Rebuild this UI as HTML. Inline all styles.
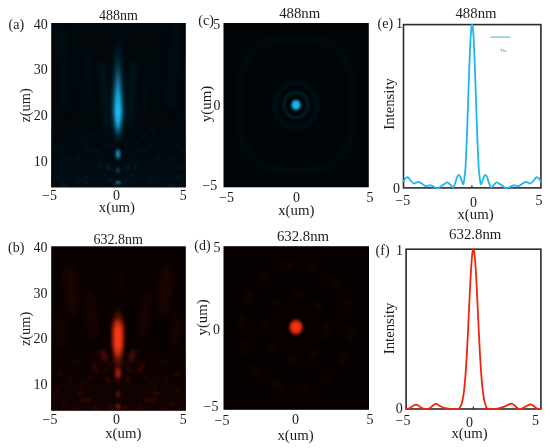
<!DOCTYPE html>
<html><head><meta charset="utf-8">
<style>
html,body{margin:0;padding:0;background:#fff;}
body{width:550px;height:448px;position:relative;overflow:hidden;}
svg{position:absolute;left:0;top:0;display:block;}
text{font-family:"Liberation Serif","Times New Roman",serif;font-size:14px;fill:#1c1c1c;}
.m{text-anchor:middle;}
.e{text-anchor:end;}
.L{font-size:14.8px;}
.Z{font-size:14.4px;}
</style></head><body>
<svg width="550" height="448" viewBox="0 0 550 448">
<defs>
<filter id="b1" x="-50%" y="-50%" width="200%" height="200%"><feGaussianBlur stdDeviation="1.2"/></filter>
<filter id="b2" x="-50%" y="-50%" width="200%" height="200%"><feGaussianBlur stdDeviation="2"/></filter>
<filter id="b3" x="-50%" y="-50%" width="200%" height="200%"><feGaussianBlur stdDeviation="3"/></filter>
<filter id="b4" x="-50%" y="-50%" width="200%" height="200%"><feGaussianBlur stdDeviation="4.5"/></filter>
<clipPath id="ca"><rect x="51.2" y="23" width="134.6" height="164.3"/></clipPath>
<clipPath id="cb"><rect x="51.2" y="246.3" width="134.6" height="164.3"/></clipPath>
<clipPath id="cc"><rect x="223.5" y="23" width="145.3" height="164.3"/></clipPath>
<clipPath id="cd"><rect x="223.5" y="246.2" width="145.5" height="163.6"/></clipPath>
<filter id="b1x" x="-50%" y="-50%" width="200%" height="200%"><feGaussianBlur stdDeviation="1.6"/></filter>
<filter id="ba" x="-300%" y="-20%" width="700%" height="140%"><feGaussianBlur stdDeviation="2.6 3"/></filter>
<linearGradient id="ga0" x1="0" y1="0" x2="0" y2="1"><stop offset="0" stop-color="#020c12" stop-opacity="0"/><stop offset="1" stop-color="#020c12" stop-opacity="1"/></linearGradient>
<linearGradient id="gb0" x1="0" y1="0" x2="0" y2="1"><stop offset="0" stop-color="#120301" stop-opacity="0"/><stop offset="1" stop-color="#120301" stop-opacity="1"/></linearGradient>
<linearGradient id="ga1" x1="0" y1="30" x2="0" y2="140" gradientUnits="userSpaceOnUse">
<stop offset="0" stop-color="#14a5d6" stop-opacity="0"/><stop offset="0.14" stop-color="#14a5d6" stop-opacity="0.14"/><stop offset="0.40" stop-color="#14a5d6" stop-opacity="0.45"/><stop offset="0.62" stop-color="#14a5d6" stop-opacity="0.85"/><stop offset="0.76" stop-color="#14a5d6" stop-opacity="1"/><stop offset="0.9" stop-color="#14a5d6" stop-opacity="0.8"/><stop offset="1" stop-color="#14a5d6" stop-opacity="0.3"/></linearGradient>
<linearGradient id="ga2" x1="0" y1="60" x2="0" y2="132" gradientUnits="userSpaceOnUse">
<stop offset="0" stop-color="#1cbdf2" stop-opacity="0"/><stop offset="0.45" stop-color="#1cbdf2" stop-opacity="0.55"/><stop offset="0.72" stop-color="#1cbdf2" stop-opacity="1"/><stop offset="0.86" stop-color="#1cbdf2" stop-opacity="0.8"/><stop offset="1" stop-color="#1cbdf2" stop-opacity="0.2"/></linearGradient>
<linearGradient id="gb1" x1="0" y1="304" x2="0" y2="382" gradientUnits="userSpaceOnUse">
<stop offset="0" stop-color="#e02c0e" stop-opacity="0"/><stop offset="0.15" stop-color="#e02c0e" stop-opacity="0.3"/><stop offset="0.3" stop-color="#e02c0e" stop-opacity="0.9"/><stop offset="0.42" stop-color="#e02c0e" stop-opacity="1"/><stop offset="0.58" stop-color="#e02c0e" stop-opacity="0.95"/><stop offset="0.75" stop-color="#e02c0e" stop-opacity="0.55"/><stop offset="1" stop-color="#e02c0e" stop-opacity="0.25"/></linearGradient>
<linearGradient id="gb2" x1="0" y1="320" x2="0" y2="356" gradientUnits="userSpaceOnUse">
<stop offset="0" stop-color="#ff3a14" stop-opacity="0.3"/><stop offset="0.3" stop-color="#ff3a14" stop-opacity="1"/><stop offset="0.7" stop-color="#ff3a14" stop-opacity="1"/><stop offset="1" stop-color="#ff3a14" stop-opacity="0.2"/></linearGradient>
<radialGradient id="gc"><stop offset="0" stop-color="#14bdf5"/><stop offset="0.34" stop-color="#13b4ea"/><stop offset="0.55" stop-color="#0f8ab5" stop-opacity="0.9"/><stop offset="0.78" stop-color="#084660" stop-opacity="0.6"/><stop offset="1" stop-color="#010507" stop-opacity="0"/></radialGradient>
<radialGradient id="gd"><stop offset="0" stop-color="#ff3a14"/><stop offset="0.3" stop-color="#f8320f"/><stop offset="0.5" stop-color="#d4280c" stop-opacity="0.96"/><stop offset="0.68" stop-color="#8e1b08" stop-opacity="0.85"/><stop offset="0.85" stop-color="#3d0b03" stop-opacity="0.55"/><stop offset="1" stop-color="#060100" stop-opacity="0"/></radialGradient>
</defs>

<rect x="51.2" y="23" width="134.6" height="164.3" fill="#01070b"/>
<g clip-path="url(#ca)">
<rect x="51" y="120" width="135" height="70" fill="url(#ga0)"/>
<path d="M102,62 L107,128 M134,62 L129,128" stroke="#0a5573" stroke-width="4" opacity="0.3" fill="none" filter="url(#b3)"/>
<path d="M86,50 L93,118 M150,50 L143,118" stroke="#0a5573" stroke-width="4" opacity="0.1" fill="none" filter="url(#b3)"/>
<path d="M60,24 L66,110 M176,24 L170,110" stroke="#0a5573" stroke-width="6" opacity="0.13" fill="none" filter="url(#b4)"/>
<path d="M118,28 C116.4,50 113.6,85 113.6,108 C113.6,122 116.6,134 118,143 C119.4,134 122.4,122 122.4,108 C122.4,85 119.6,50 118,28 Z" fill="url(#ga1)" filter="url(#ba)"/>
<path d="M118,60 C116.8,80 115.4,100 115.4,110 C115.4,120 117.2,128 118,135 C118.8,128 120.6,120 120.6,110 C120.6,100 119.2,80 118,60Z" fill="url(#ga2)" filter="url(#b1x)"/>
<ellipse cx="118" cy="154" rx="2.2" ry="4.6" fill="#1394c0" opacity="1" filter="url(#b1x)"/>
<ellipse cx="118" cy="170" rx="2" ry="2.5" fill="#0b5a78" opacity="0.8" filter="url(#b1x)"/>
<ellipse cx="118" cy="182.5" rx="3" ry="1.6" fill="#0f7ea5" opacity="0.9" filter="url(#b1)"/>
<ellipse cx="93.2462013451771" cy="136.7492520876211" rx="1.6448725733350855" ry="1.643058405168027" fill="#0b5673" opacity="0.11" filter="url(#b1x)"/>
<ellipse cx="142.7537986548229" cy="136.7492520876211" rx="1.6448725733350855" ry="1.643058405168027" fill="#0b5673" opacity="0.11" filter="url(#b1x)"/>
<ellipse cx="90.69297606833229" cy="131.363937636933" rx="1.5749913168839698" ry="1.520374820394863" fill="#0b5673" opacity="0.09" filter="url(#b1x)"/>
<ellipse cx="145.30702393166771" cy="131.363937636933" rx="1.5749913168839698" ry="1.520374820394863" fill="#0b5673" opacity="0.09" filter="url(#b1x)"/>
<ellipse cx="108.73881916194824" cy="133.26135477394416" rx="3.1537042493440763" ry="1.1485623533795748" fill="#0b5673" opacity="0.09" filter="url(#b1x)"/>
<ellipse cx="127.26118083805176" cy="133.26135477394416" rx="3.1537042493440763" ry="1.1485623533795748" fill="#0b5673" opacity="0.09" filter="url(#b1x)"/>
<ellipse cx="99.38242315897212" cy="164.39112689952418" rx="2.6542058972349976" ry="1.4760165695809362" fill="#0b5673" opacity="0.19" filter="url(#b1x)"/>
<ellipse cx="136.6175768410279" cy="164.39112689952418" rx="2.6542058972349976" ry="1.4760165695809362" fill="#0b5673" opacity="0.19" filter="url(#b1x)"/>
<ellipse cx="53.44843855883187" cy="130.70179547582987" rx="2.0792185726633523" ry="1.1731061000289251" fill="#0b5673" opacity="0.12" filter="url(#b1x)"/>
<ellipse cx="182.55156144116813" cy="130.70179547582987" rx="2.0792185726633523" ry="1.1731061000289251" fill="#0b5673" opacity="0.12" filter="url(#b1x)"/>
<ellipse cx="105.81467347721953" cy="145.8919457979122" rx="1.861452759847875" ry="1.6979201963949597" fill="#0b5673" opacity="0.14" filter="url(#b1x)"/>
<ellipse cx="130.18532652278049" cy="145.8919457979122" rx="1.861452759847875" ry="1.6979201963949597" fill="#0b5673" opacity="0.14" filter="url(#b1x)"/>
<ellipse cx="74.02627839550277" cy="149.59905747809242" rx="1.6255779499466463" ry="1.0715214039594791" fill="#0b5673" opacity="0.12" filter="url(#b1x)"/>
<ellipse cx="161.97372160449723" cy="149.59905747809242" rx="1.6255779499466463" ry="1.0715214039594791" fill="#0b5673" opacity="0.12" filter="url(#b1x)"/>
<ellipse cx="100.43651851802107" cy="167.4631984445436" rx="2.128294340753583" ry="1.7026742362091665" fill="#0b5673" opacity="0.13" filter="url(#b1x)"/>
<ellipse cx="135.56348148197893" cy="167.4631984445436" rx="2.128294340753583" ry="1.7026742362091665" fill="#0b5673" opacity="0.13" filter="url(#b1x)"/>
<ellipse cx="85.3557530413827" cy="145.38648581809358" rx="2.8979888674591425" ry="1.2929158128665836" fill="#0b5673" opacity="0.14" filter="url(#b1x)"/>
<ellipse cx="150.64424695861732" cy="145.38648581809358" rx="2.8979888674591425" ry="1.2929158128665836" fill="#0b5673" opacity="0.14" filter="url(#b1x)"/>
<ellipse cx="77.96015367422106" cy="158.46139722106417" rx="2.958890578878435" ry="1.3455253178682238" fill="#0b5673" opacity="0.17" filter="url(#b1x)"/>
<ellipse cx="158.03984632577894" cy="158.46139722106417" rx="2.958890578878435" ry="1.3455253178682238" fill="#0b5673" opacity="0.17" filter="url(#b1x)"/>
<ellipse cx="53.2093343029525" cy="134.8478151387878" rx="3.0142818591304987" ry="1.1823814415926057" fill="#0b5673" opacity="0.09" filter="url(#b1x)"/>
<ellipse cx="182.7906656970475" cy="134.8478151387878" rx="3.0142818591304987" ry="1.1823814415926057" fill="#0b5673" opacity="0.09" filter="url(#b1x)"/>
<ellipse cx="83.17325087097586" cy="130.2740209087514" rx="3.029141732425626" ry="1.6876311283328609" fill="#0b5673" opacity="0.1" filter="url(#b1x)"/>
<ellipse cx="152.82674912902414" cy="130.2740209087514" rx="3.029141732425626" ry="1.6876311283328609" fill="#0b5673" opacity="0.1" filter="url(#b1x)"/>
<ellipse cx="59.59585347831582" cy="146.1973557451896" rx="2.6887397542100366" ry="1.6958742451389908" fill="#0b5673" opacity="0.13" filter="url(#b1x)"/>
<ellipse cx="176.4041465216842" cy="146.1973557451896" rx="2.6887397542100366" ry="1.6958742451389908" fill="#0b5673" opacity="0.13" filter="url(#b1x)"/>
<ellipse cx="85.1714747906138" cy="176.7181312697274" rx="2.4481966748392887" ry="1.7969826465696095" fill="#0b5673" opacity="0.21" filter="url(#b1x)"/>
<ellipse cx="150.8285252093862" cy="176.7181312697274" rx="2.4481966748392887" ry="1.7969826465696095" fill="#0b5673" opacity="0.21" filter="url(#b1x)"/>
<ellipse cx="109.2991649165696" cy="168.6865372356566" rx="3.486191878933268" ry="1.986309743931658" fill="#0b5673" opacity="0.16" filter="url(#b1x)"/>
<ellipse cx="126.7008350834304" cy="168.6865372356566" rx="3.486191878933268" ry="1.986309743931658" fill="#0b5673" opacity="0.16" filter="url(#b1x)"/>
<ellipse cx="95.6396725422569" cy="150.37590366190923" rx="1.5451258561111771" ry="1.554034343559719" fill="#0b5673" opacity="0.13" filter="url(#b1x)"/>
<ellipse cx="140.3603274577431" cy="150.37590366190923" rx="1.5451258561111771" ry="1.554034343559719" fill="#0b5673" opacity="0.13" filter="url(#b1x)"/>
<ellipse cx="102.74904888670078" cy="134.79155607994045" rx="3.0364659769450415" ry="1.155208266422421" fill="#0b5673" opacity="0.06" filter="url(#b1x)"/>
<ellipse cx="133.2509511132992" cy="134.79155607994045" rx="3.0364659769450415" ry="1.155208266422421" fill="#0b5673" opacity="0.06" filter="url(#b1x)"/>
<ellipse cx="97.89549514448822" cy="150.67508278172716" rx="1.6611626024002772" ry="1.539024881139197" fill="#0b5673" opacity="0.15" filter="url(#b1x)"/>
<ellipse cx="138.10450485551178" cy="150.67508278172716" rx="1.6611626024002772" ry="1.539024881139197" fill="#0b5673" opacity="0.15" filter="url(#b1x)"/>
<ellipse cx="79.48416554221372" cy="179.23626193360772" rx="3.22796893939703" ry="1.3341052774166766" fill="#0b5673" opacity="0.2" filter="url(#b1x)"/>
<ellipse cx="156.5158344577863" cy="179.23626193360772" rx="3.22796893939703" ry="1.3341052774166766" fill="#0b5673" opacity="0.2" filter="url(#b1x)"/>
<ellipse cx="87.66691245008639" cy="148.80872758923425" rx="3.4154624079279827" ry="1.1811050869493307" fill="#0b5673" opacity="0.15" filter="url(#b1x)"/>
<ellipse cx="148.3330875499136" cy="148.80872758923425" rx="3.4154624079279827" ry="1.1811050869493307" fill="#0b5673" opacity="0.15" filter="url(#b1x)"/>
<ellipse cx="102.25071856208741" cy="141.45349827553306" rx="2.4699254606827132" ry="1.706948204478707" fill="#0b5673" opacity="0.08" filter="url(#b1x)"/>
<ellipse cx="133.7492814379126" cy="141.45349827553306" rx="2.4699254606827132" ry="1.706948204478707" fill="#0b5673" opacity="0.08" filter="url(#b1x)"/>
<ellipse cx="96.97245622278919" cy="128.2374289963337" rx="2.238507145789451" ry="1.6796094684476706" fill="#0b5673" opacity="0.08" filter="url(#b1x)"/>
<ellipse cx="139.0275437772108" cy="128.2374289963337" rx="2.238507145789451" ry="1.6796094684476706" fill="#0b5673" opacity="0.08" filter="url(#b1x)"/>
<ellipse cx="54.861026542969185" cy="168.04863211388673" rx="2.7351854988182556" ry="1.8114400989394017" fill="#0b5673" opacity="0.15" filter="url(#b1x)"/>
<ellipse cx="181.13897345703083" cy="168.04863211388673" rx="2.7351854988182556" ry="1.8114400989394017" fill="#0b5673" opacity="0.15" filter="url(#b1x)"/>
<ellipse cx="109.7064335133488" cy="180.17291458336123" rx="3.249026368268953" ry="1.9574477454358794" fill="#0b5673" opacity="0.2" filter="url(#b1x)"/>
<ellipse cx="126.2935664866512" cy="180.17291458336123" rx="3.249026368268953" ry="1.9574477454358794" fill="#0b5673" opacity="0.2" filter="url(#b1x)"/>
<ellipse cx="89.06488667963262" cy="151.14077227457582" rx="2.768579131371418" ry="1.0746973859424251" fill="#0b5673" opacity="0.08" filter="url(#b1x)"/>
<ellipse cx="146.93511332036738" cy="151.14077227457582" rx="2.768579131371418" ry="1.0746973859424251" fill="#0b5673" opacity="0.08" filter="url(#b1x)"/>
<ellipse cx="108.89179543357548" cy="140.10826475587754" rx="2.180107304464687" ry="1.0630907246683203" fill="#0b5673" opacity="0.07" filter="url(#b1x)"/>
<ellipse cx="127.10820456642452" cy="140.10826475587754" rx="2.180107304464687" ry="1.0630907246683203" fill="#0b5673" opacity="0.07" filter="url(#b1x)"/>
<ellipse cx="112.98576980401725" cy="136.7733660722068" rx="2.227219844069142" ry="1.0306010639993748" fill="#0b5673" opacity="0.07" filter="url(#b1x)"/>
<ellipse cx="123.01423019598275" cy="136.7733660722068" rx="2.227219844069142" ry="1.0306010639993748" fill="#0b5673" opacity="0.07" filter="url(#b1x)"/>
<ellipse cx="59.665724980197005" cy="163.61600129173178" rx="2.0045155131141543" ry="1.416867455264442" fill="#0b5673" opacity="0.1" filter="url(#b1x)"/>
<ellipse cx="176.334275019803" cy="163.61600129173178" rx="2.0045155131141543" ry="1.416867455264442" fill="#0b5673" opacity="0.1" filter="url(#b1x)"/>
<ellipse cx="90.78603018877477" cy="135.1248493842073" rx="3.486205443409428" ry="1.5591873509919205" fill="#0b5673" opacity="0.12" filter="url(#b1x)"/>
<ellipse cx="145.21396981122524" cy="135.1248493842073" rx="3.486205443409428" ry="1.5591873509919205" fill="#0b5673" opacity="0.12" filter="url(#b1x)"/>
<ellipse cx="83.48608595860756" cy="132.9813103702576" rx="2.1852716764860034" ry="1.3177082700606162" fill="#0b5673" opacity="0.06" filter="url(#b1x)"/>
<ellipse cx="152.51391404139244" cy="132.9813103702576" rx="2.1852716764860034" ry="1.3177082700606162" fill="#0b5673" opacity="0.06" filter="url(#b1x)"/>
<ellipse cx="62.439821934584806" cy="137.36343941053303" rx="3.401971145749404" ry="1.6339088740505499" fill="#0b5673" opacity="0.06" filter="url(#b1x)"/>
<ellipse cx="173.5601780654152" cy="137.36343941053303" rx="3.401971145749404" ry="1.6339088740505499" fill="#0b5673" opacity="0.06" filter="url(#b1x)"/>
<ellipse cx="104.05724512715547" cy="159.50400070116262" rx="2.556218881876613" ry="2.1742014912627674" fill="#0b5673" opacity="0.08" filter="url(#b1x)"/>
<ellipse cx="131.94275487284455" cy="159.50400070116262" rx="2.556218881876613" ry="2.1742014912627674" fill="#0b5673" opacity="0.08" filter="url(#b1x)"/>
<ellipse cx="60.337173152330195" cy="168.37941358265252" rx="2.233399583522358" ry="1.2004504414412036" fill="#0b5673" opacity="0.12" filter="url(#b1x)"/>
<ellipse cx="175.6628268476698" cy="168.37941358265252" rx="2.233399583522358" ry="1.2004504414412036" fill="#0b5673" opacity="0.12" filter="url(#b1x)"/>
<ellipse cx="65.91178758747608" cy="158.89035905458698" rx="2.1593299900955247" ry="1.2676500077238222" fill="#0b5673" opacity="0.16" filter="url(#b1x)"/>
<ellipse cx="170.08821241252392" cy="158.89035905458698" rx="2.1593299900955247" ry="1.2676500077238222" fill="#0b5673" opacity="0.16" filter="url(#b1x)"/>
<ellipse cx="63.49781394681071" cy="185.12571093427167" rx="3.112157169571335" ry="1.981999531990448" fill="#0b5673" opacity="0.22" filter="url(#b1x)"/>
<ellipse cx="172.5021860531893" cy="185.12571093427167" rx="3.112157169571335" ry="1.981999531990448" fill="#0b5673" opacity="0.22" filter="url(#b1x)"/>
<ellipse cx="67.86774575708144" cy="141.15089042183192" rx="2.2111250867099166" ry="1.0347761808896385" fill="#0b5673" opacity="0.11" filter="url(#b1x)"/>
<ellipse cx="168.13225424291858" cy="141.15089042183192" rx="2.2111250867099166" ry="1.0347761808896385" fill="#0b5673" opacity="0.11" filter="url(#b1x)"/>
<ellipse cx="111.29583839925407" cy="144.20627526484373" rx="2.8850438834002468" ry="2.1478180916096052" fill="#0b5673" opacity="0.09" filter="url(#b1x)"/>
<ellipse cx="124.70416160074593" cy="144.20627526484373" rx="2.8850438834002468" ry="2.1478180916096052" fill="#0b5673" opacity="0.09" filter="url(#b1x)"/>
<ellipse cx="85.71911165622987" cy="182.34722967402206" rx="3.410001262642666" ry="1.4375630624342395" fill="#0b5673" opacity="0.23" filter="url(#b1x)"/>
<ellipse cx="150.28088834377013" cy="182.34722967402206" rx="3.410001262642666" ry="1.4375630624342395" fill="#0b5673" opacity="0.23" filter="url(#b1x)"/>
<ellipse cx="99.55179829722951" cy="141.1570579503822" rx="1.908746726552446" ry="1.748879676925382" fill="#0b5673" opacity="0.08" filter="url(#b1x)"/>
<ellipse cx="136.4482017027705" cy="141.1570579503822" rx="1.908746726552446" ry="1.748879676925382" fill="#0b5673" opacity="0.08" filter="url(#b1x)"/>
<ellipse cx="58.08119138906903" cy="176.7452605821988" rx="2.805956085682018" ry="1.9595724938195924" fill="#0b5673" opacity="0.15" filter="url(#b1x)"/>
<ellipse cx="177.91880861093097" cy="176.7452605821988" rx="2.805956085682018" ry="1.9595724938195924" fill="#0b5673" opacity="0.15" filter="url(#b1x)"/>
<ellipse cx="107.8285123265268" cy="166.31396771188386" rx="3.06460576819618" ry="1.90016855179655" fill="#0b5673" opacity="0.19" filter="url(#b1x)"/>
<ellipse cx="128.1714876734732" cy="166.31396771188386" rx="3.06460576819618" ry="1.90016855179655" fill="#0b5673" opacity="0.19" filter="url(#b1x)"/>
<ellipse cx="83.84000257976598" cy="138.35425966357926" rx="2.16503439972922" ry="1.9609882826760294" fill="#0b5673" opacity="0.12" filter="url(#b1x)"/>
<ellipse cx="152.15999742023402" cy="138.35425966357926" rx="2.16503439972922" ry="1.9609882826760294" fill="#0b5673" opacity="0.12" filter="url(#b1x)"/>
<ellipse cx="53.72890537208835" cy="150.958632714028" rx="3.393594012929786" ry="1.8697583987610584" fill="#0b5673" opacity="0.11" filter="url(#b1x)"/>
<ellipse cx="182.27109462791165" cy="150.958632714028" rx="3.393594012929786" ry="1.8697583987610584" fill="#0b5673" opacity="0.11" filter="url(#b1x)"/>
<ellipse cx="102.62977674171438" cy="135.36822530327612" rx="3.3097041914664787" ry="1.9678023784386354" fill="#0b5673" opacity="0.07" filter="url(#b1x)"/>
<ellipse cx="133.37022325828562" cy="135.36822530327612" rx="3.3097041914664787" ry="1.9678023784386354" fill="#0b5673" opacity="0.07" filter="url(#b1x)"/>
<ellipse cx="104.08336716662367" cy="175.93760775447245" rx="2.81453658547204" ry="1.4204890145890035" fill="#0b5673" opacity="0.22" filter="url(#b1x)"/>
<ellipse cx="131.91663283337633" cy="175.93760775447245" rx="2.81453658547204" ry="1.4204890145890035" fill="#0b5673" opacity="0.22" filter="url(#b1x)"/>
<ellipse cx="79.53173731680647" cy="135.5970634165481" rx="3.4417803544755285" ry="1.7796096036085967" fill="#0b5673" opacity="0.06" filter="url(#b1x)"/>
<ellipse cx="156.46826268319353" cy="135.5970634165481" rx="3.4417803544755285" ry="1.7796096036085967" fill="#0b5673" opacity="0.06" filter="url(#b1x)"/>
</g>
<rect x="51.2" y="246.3" width="134.6" height="164.3" fill="#080100"/>
<g clip-path="url(#cb)">
<rect x="51" y="340" width="135" height="72" fill="url(#gb0)"/>
<ellipse cx="71" cy="290" rx="5" ry="28" fill="#5a1206" opacity="0.3" filter="url(#b4)" transform="rotate(-6 71 290)"/>
<ellipse cx="165" cy="290" rx="5" ry="28" fill="#5a1206" opacity="0.3" filter="url(#b4)" transform="rotate(6 165 290)"/>
<ellipse cx="91" cy="315" rx="4" ry="26" fill="#5a1206" opacity="0.28" filter="url(#b4)" transform="rotate(-5 91 315)"/>
<ellipse cx="145" cy="315" rx="4" ry="26" fill="#5a1206" opacity="0.28" filter="url(#b4)" transform="rotate(5 145 315)"/>
<ellipse cx="60" cy="330" rx="5" ry="20" fill="#5a1206" opacity="0.2" filter="url(#b4)" transform="rotate(-8 60 330)"/>
<ellipse cx="176" cy="330" rx="5" ry="20" fill="#5a1206" opacity="0.2" filter="url(#b4)" transform="rotate(8 176 330)"/>
<ellipse cx="118" cy="283" rx="3" ry="16" fill="#5a1206" opacity="0.18" filter="url(#b4)"/>
<path d="M118,302 C115,312 113,322 113,334 C113,346 115.4,358 116.4,366 L116.6,382 L119.4,382 L119.6,366 C120.6,358 123,346 123,334 C123,322 121,312 118,302Z" fill="url(#gb1)" filter="url(#ba)"/>
<rect x="114.6" y="320" width="6.8" height="36" fill="url(#gb2)" filter="url(#b2)"/>
<ellipse cx="118" cy="373" rx="2.6" ry="5" fill="#b0230f" opacity="0.9" filter="url(#b1x)"/>
<ellipse cx="118" cy="394" rx="2.2" ry="3" fill="#6a1408" opacity="0.8" filter="url(#b1x)"/>
<ellipse cx="118" cy="406.5" rx="2.8" ry="2.2" fill="#8a1a0a" opacity="0.9" filter="url(#b1x)"/>
<ellipse cx="104" cy="356" rx="2.6" ry="7" fill="#6e1607" opacity="0.75" filter="url(#b2)" transform="rotate(-18 104 356)"/>
<ellipse cx="132" cy="356" rx="2.6" ry="7" fill="#6e1607" opacity="0.75" filter="url(#b2)" transform="rotate(18 132 356)"/>
<ellipse cx="95" cy="368" rx="2.4" ry="6" fill="#561105" opacity="0.6" filter="url(#b2)" transform="rotate(-28 95 368)"/>
<ellipse cx="141" cy="368" rx="2.4" ry="6" fill="#561105" opacity="0.6" filter="url(#b2)" transform="rotate(28 141 368)"/>
<ellipse cx="108" cy="380" rx="2" ry="4" fill="#561105" opacity="0.5" filter="url(#b1x)" transform="rotate(-20 108 380)"/>
<ellipse cx="128" cy="380" rx="2" ry="4" fill="#561105" opacity="0.5" filter="url(#b1x)" transform="rotate(20 128 380)"/>
<ellipse cx="85.40484723590106" cy="383.02657077874926" rx="2.4313001401995464" ry="1.8094095276747253" fill="#5c1206" opacity="0.3" filter="url(#b1x)"/>
<ellipse cx="150.59515276409894" cy="383.02657077874926" rx="2.4313001401995464" ry="1.8094095276747253" fill="#5c1206" opacity="0.3" filter="url(#b1x)"/>
<ellipse cx="77.16952544015629" cy="360.8949602874377" rx="2.759765440433604" ry="2.1515722470239433" fill="#5c1206" opacity="0.16" filter="url(#b1x)"/>
<ellipse cx="158.8304745598437" cy="360.8949602874377" rx="2.759765440433604" ry="2.1515722470239433" fill="#5c1206" opacity="0.16" filter="url(#b1x)"/>
<ellipse cx="107.25846917001768" cy="367.900674494847" rx="3.1192890687343553" ry="2.0321261790494867" fill="#5c1206" opacity="0.11" filter="url(#b1x)"/>
<ellipse cx="128.74153082998234" cy="367.900674494847" rx="3.1192890687343553" ry="2.0321261790494867" fill="#5c1206" opacity="0.11" filter="url(#b1x)"/>
<ellipse cx="110.44529948143939" cy="407.9494118271279" rx="2.8078450670676807" ry="1.9386752454942848" fill="#5c1206" opacity="0.39" filter="url(#b1x)"/>
<ellipse cx="125.55470051856061" cy="407.9494118271279" rx="2.8078450670676807" ry="1.9386752454942848" fill="#5c1206" opacity="0.39" filter="url(#b1x)"/>
<ellipse cx="103.39286019645009" cy="350.8850434800267" rx="1.61910221033771" ry="1.4282499153575148" fill="#5c1206" opacity="0.14" filter="url(#b1x)"/>
<ellipse cx="132.6071398035499" cy="350.8850434800267" rx="1.61910221033771" ry="1.4282499153575148" fill="#5c1206" opacity="0.14" filter="url(#b1x)"/>
<ellipse cx="98.2414761664219" cy="351.7748727642625" rx="2.3810622333133136" ry="2.2109125542222383" fill="#5c1206" opacity="0.14" filter="url(#b1x)"/>
<ellipse cx="137.7585238335781" cy="351.7748727642625" rx="2.3810622333133136" ry="2.2109125542222383" fill="#5c1206" opacity="0.14" filter="url(#b1x)"/>
<ellipse cx="81.33342899939132" cy="387.77721076723145" rx="2.8248990637807365" ry="1.7487958579194691" fill="#5c1206" opacity="0.23" filter="url(#b1x)"/>
<ellipse cx="154.66657100060868" cy="387.77721076723145" rx="2.8248990637807365" ry="1.7487958579194691" fill="#5c1206" opacity="0.23" filter="url(#b1x)"/>
<ellipse cx="96.03206312050295" cy="408.861715827322" rx="3.1804310989857236" ry="2.0493715457975394" fill="#5c1206" opacity="0.4" filter="url(#b1x)"/>
<ellipse cx="139.96793687949705" cy="408.861715827322" rx="3.1804310989857236" ry="2.0493715457975394" fill="#5c1206" opacity="0.4" filter="url(#b1x)"/>
<ellipse cx="93.76808976205146" cy="363.5502881948664" rx="1.6404469991198518" ry="2.1195454636924884" fill="#5c1206" opacity="0.14" filter="url(#b1x)"/>
<ellipse cx="142.23191023794854" cy="363.5502881948664" rx="1.6404469991198518" ry="2.1195454636924884" fill="#5c1206" opacity="0.14" filter="url(#b1x)"/>
<ellipse cx="88.57561189997205" cy="399.94843369098953" rx="3.416084766639627" ry="2.216771727963365" fill="#5c1206" opacity="0.23" filter="url(#b1x)"/>
<ellipse cx="147.42438810002795" cy="399.94843369098953" rx="3.416084766639627" ry="2.216771727963365" fill="#5c1206" opacity="0.23" filter="url(#b1x)"/>
<ellipse cx="112.96675883961021" cy="362.37332746904707" rx="2.4399745520273326" ry="2.3764307294091505" fill="#5c1206" opacity="0.23" filter="url(#b1x)"/>
<ellipse cx="123.03324116038979" cy="362.37332746904707" rx="2.4399745520273326" ry="2.3764307294091505" fill="#5c1206" opacity="0.23" filter="url(#b1x)"/>
<ellipse cx="88.75711232716385" cy="354.3092622861882" rx="3.057021717353302" ry="1.523730704220171" fill="#5c1206" opacity="0.16" filter="url(#b1x)"/>
<ellipse cx="147.24288767283616" cy="354.3092622861882" rx="3.057021717353302" ry="1.523730704220171" fill="#5c1206" opacity="0.16" filter="url(#b1x)"/>
<ellipse cx="107.68420390051762" cy="369.62255190233753" rx="3.0160810339875175" ry="1.341590015303461" fill="#5c1206" opacity="0.26" filter="url(#b1x)"/>
<ellipse cx="128.31579609948238" cy="369.62255190233753" rx="3.0160810339875175" ry="1.341590015303461" fill="#5c1206" opacity="0.26" filter="url(#b1x)"/>
<ellipse cx="97.97033511751907" cy="355.9617322284456" rx="3.094043023687948" ry="1.4132137538380394" fill="#5c1206" opacity="0.09" filter="url(#b1x)"/>
<ellipse cx="138.02966488248092" cy="355.9617322284456" rx="3.094043023687948" ry="1.4132137538380394" fill="#5c1206" opacity="0.09" filter="url(#b1x)"/>
<ellipse cx="78.88299636176592" cy="376.3980677725603" rx="2.963788431428701" ry="1.3571605004599436" fill="#5c1206" opacity="0.14" filter="url(#b1x)"/>
<ellipse cx="157.11700363823408" cy="376.3980677725603" rx="2.963788431428701" ry="1.3571605004599436" fill="#5c1206" opacity="0.14" filter="url(#b1x)"/>
<ellipse cx="73.7333774536188" cy="356.87397127074263" rx="1.9257313460181789" ry="1.523753972628718" fill="#5c1206" opacity="0.14" filter="url(#b1x)"/>
<ellipse cx="162.2666225463812" cy="356.87397127074263" rx="1.9257313460181789" ry="1.523753972628718" fill="#5c1206" opacity="0.14" filter="url(#b1x)"/>
<ellipse cx="53.773327570659816" cy="397.4012786818422" rx="3.2697302254979417" ry="1.4528522657213272" fill="#5c1206" opacity="0.2" filter="url(#b1x)"/>
<ellipse cx="182.22667242934017" cy="397.4012786818422" rx="3.2697302254979417" ry="1.4528522657213272" fill="#5c1206" opacity="0.2" filter="url(#b1x)"/>
<ellipse cx="88.94924713860469" cy="400.4082372003726" rx="1.7006655043677659" ry="2.3871620370122066" fill="#5c1206" opacity="0.29" filter="url(#b1x)"/>
<ellipse cx="147.05075286139532" cy="400.4082372003726" rx="1.7006655043677659" ry="2.3871620370122066" fill="#5c1206" opacity="0.29" filter="url(#b1x)"/>
<ellipse cx="99.99215451677112" cy="365.2383759138356" rx="2.15791085109546" ry="1.5555897151187357" fill="#5c1206" opacity="0.22" filter="url(#b1x)"/>
<ellipse cx="136.0078454832289" cy="365.2383759138356" rx="2.15791085109546" ry="1.5555897151187357" fill="#5c1206" opacity="0.22" filter="url(#b1x)"/>
<ellipse cx="108.52268824330612" cy="355.31691320475386" rx="1.9860258402751247" ry="1.9215406122983265" fill="#5c1206" opacity="0.16" filter="url(#b1x)"/>
<ellipse cx="127.47731175669388" cy="355.31691320475386" rx="1.9860258402751247" ry="1.9215406122983265" fill="#5c1206" opacity="0.16" filter="url(#b1x)"/>
<ellipse cx="90.32605315781308" cy="376.7392781787071" rx="2.46744906652509" ry="1.889485494515937" fill="#5c1206" opacity="0.28" filter="url(#b1x)"/>
<ellipse cx="145.67394684218692" cy="376.7392781787071" rx="2.46744906652509" ry="1.889485494515937" fill="#5c1206" opacity="0.28" filter="url(#b1x)"/>
<ellipse cx="60.14193426406444" cy="360.7868352309424" rx="3.316847461884966" ry="2.181362339351578" fill="#5c1206" opacity="0.11" filter="url(#b1x)"/>
<ellipse cx="175.85806573593555" cy="360.7868352309424" rx="3.316847461884966" ry="2.181362339351578" fill="#5c1206" opacity="0.11" filter="url(#b1x)"/>
<ellipse cx="97.78058744781578" cy="361.19823929183235" rx="3.3808097921897646" ry="1.4359077544835863" fill="#5c1206" opacity="0.2" filter="url(#b1x)"/>
<ellipse cx="138.21941255218422" cy="361.19823929183235" rx="3.3808097921897646" ry="1.4359077544835863" fill="#5c1206" opacity="0.2" filter="url(#b1x)"/>
<ellipse cx="55.04171300917264" cy="402.0491955017183" rx="2.3429144478947155" ry="1.3246076176379376" fill="#5c1206" opacity="0.28" filter="url(#b1x)"/>
<ellipse cx="180.95828699082736" cy="402.0491955017183" rx="2.3429144478947155" ry="1.3246076176379376" fill="#5c1206" opacity="0.28" filter="url(#b1x)"/>
<ellipse cx="110.63951522667926" cy="406.7982091758813" rx="2.909158921116754" ry="1.5083776779843743" fill="#5c1206" opacity="0.21" filter="url(#b1x)"/>
<ellipse cx="125.36048477332074" cy="406.7982091758813" rx="2.909158921116754" ry="1.5083776779843743" fill="#5c1206" opacity="0.21" filter="url(#b1x)"/>
<ellipse cx="62.75321134780148" cy="385.1915120852662" rx="1.8508667935317185" ry="2.0644239930258235" fill="#5c1206" opacity="0.18" filter="url(#b1x)"/>
<ellipse cx="173.24678865219852" cy="385.1915120852662" rx="1.8508667935317185" ry="2.0644239930258235" fill="#5c1206" opacity="0.18" filter="url(#b1x)"/>
<ellipse cx="108.80465642578594" cy="363.4753839021824" rx="3.2047997506837627" ry="1.9371636188698416" fill="#5c1206" opacity="0.18" filter="url(#b1x)"/>
<ellipse cx="127.19534357421406" cy="363.4753839021824" rx="3.2047997506837627" ry="1.9371636188698416" fill="#5c1206" opacity="0.18" filter="url(#b1x)"/>
<ellipse cx="95.90661705317784" cy="404.12425053106193" rx="1.5331495861583102" ry="1.5230327136346091" fill="#5c1206" opacity="0.19" filter="url(#b1x)"/>
<ellipse cx="140.09338294682215" cy="404.12425053106193" rx="1.5331495861583102" ry="1.5230327136346091" fill="#5c1206" opacity="0.19" filter="url(#b1x)"/>
<ellipse cx="85.81196328108828" cy="353.56687898002036" rx="2.237570740744525" ry="1.8866033074831823" fill="#5c1206" opacity="0.1" filter="url(#b1x)"/>
<ellipse cx="150.18803671891172" cy="353.56687898002036" rx="2.237570740744525" ry="1.8866033074831823" fill="#5c1206" opacity="0.1" filter="url(#b1x)"/>
<ellipse cx="104.97371024173708" cy="371.3665642452694" rx="3.4609868426764745" ry="1.9883184558114864" fill="#5c1206" opacity="0.25" filter="url(#b1x)"/>
<ellipse cx="131.02628975826292" cy="371.3665642452694" rx="3.4609868426764745" ry="1.9883184558114864" fill="#5c1206" opacity="0.25" filter="url(#b1x)"/>
<ellipse cx="70.83548293383214" cy="384.48197582263055" rx="1.5701610732613112" ry="1.2214730364810784" fill="#5c1206" opacity="0.15" filter="url(#b1x)"/>
<ellipse cx="165.16451706616786" cy="384.48197582263055" rx="1.5701610732613112" ry="1.2214730364810784" fill="#5c1206" opacity="0.15" filter="url(#b1x)"/>
<ellipse cx="57.47704040403817" cy="391.3572311058378" rx="1.5425183564182028" ry="1.9634214258924154" fill="#5c1206" opacity="0.33" filter="url(#b1x)"/>
<ellipse cx="178.52295959596182" cy="391.3572311058378" rx="1.5425183564182028" ry="1.9634214258924154" fill="#5c1206" opacity="0.33" filter="url(#b1x)"/>
<ellipse cx="83.58362091255557" cy="393.09938087577166" rx="3.4987152527635104" ry="1.2903154801108607" fill="#5c1206" opacity="0.2" filter="url(#b1x)"/>
<ellipse cx="152.41637908744443" cy="393.09938087577166" rx="3.4987152527635104" ry="1.2903154801108607" fill="#5c1206" opacity="0.2" filter="url(#b1x)"/>
<ellipse cx="79.68818309579544" cy="393.48332419710925" rx="2.97417626883312" ry="2.044428743090133" fill="#5c1206" opacity="0.33" filter="url(#b1x)"/>
<ellipse cx="156.31181690420456" cy="393.48332419710925" rx="2.97417626883312" ry="2.044428743090133" fill="#5c1206" opacity="0.33" filter="url(#b1x)"/>
<ellipse cx="64.61073275829747" cy="403.98515219357034" rx="2.870291910667396" ry="2.2810031271964544" fill="#5c1206" opacity="0.23" filter="url(#b1x)"/>
<ellipse cx="171.38926724170253" cy="403.98515219357034" rx="2.870291910667396" ry="2.2810031271964544" fill="#5c1206" opacity="0.23" filter="url(#b1x)"/>
<ellipse cx="59.86282319355734" cy="374.612035376654" rx="3.2269453480828654" ry="1.8873689980614112" fill="#5c1206" opacity="0.25" filter="url(#b1x)"/>
<ellipse cx="176.13717680644265" cy="374.612035376654" rx="3.2269453480828654" ry="1.8873689980614112" fill="#5c1206" opacity="0.25" filter="url(#b1x)"/>
<ellipse cx="74.87740665377542" cy="372.55767811366474" rx="2.7177338014878196" ry="1.2962424345968522" fill="#5c1206" opacity="0.2" filter="url(#b1x)"/>
<ellipse cx="161.12259334622456" cy="372.55767811366474" rx="2.7177338014878196" ry="1.2962424345968522" fill="#5c1206" opacity="0.2" filter="url(#b1x)"/>
<ellipse cx="73.9963369291246" cy="408.60600909721103" rx="2.956414153131096" ry="1.6661235982261728" fill="#5c1206" opacity="0.37" filter="url(#b1x)"/>
<ellipse cx="162.0036630708754" cy="408.60600909721103" rx="2.956414153131096" ry="1.6661235982261728" fill="#5c1206" opacity="0.37" filter="url(#b1x)"/>
<ellipse cx="68.16267275554281" cy="384.2762198448747" rx="3.176740058381138" ry="1.3005386667135101" fill="#5c1206" opacity="0.21" filter="url(#b1x)"/>
<ellipse cx="167.83732724445719" cy="384.2762198448747" rx="3.176740058381138" ry="1.3005386667135101" fill="#5c1206" opacity="0.21" filter="url(#b1x)"/>
<ellipse cx="67.23717918704145" cy="351.75759997445243" rx="2.461913630698482" ry="1.4762659724717953" fill="#5c1206" opacity="0.15" filter="url(#b1x)"/>
<ellipse cx="168.76282081295855" cy="351.75759997445243" rx="2.461913630698482" ry="1.4762659724717953" fill="#5c1206" opacity="0.15" filter="url(#b1x)"/>
<ellipse cx="70.4015845292361" cy="379.3377840818228" rx="3.3409285468801455" ry="1.5069962641276577" fill="#5c1206" opacity="0.23" filter="url(#b1x)"/>
<ellipse cx="165.59841547076388" cy="379.3377840818228" rx="3.3409285468801455" ry="1.5069962641276577" fill="#5c1206" opacity="0.23" filter="url(#b1x)"/>
<ellipse cx="112.31026049371785" cy="367.76092582531277" rx="1.9051488268136176" ry="1.40352858382855" fill="#5c1206" opacity="0.21" filter="url(#b1x)"/>
<ellipse cx="123.68973950628215" cy="367.76092582531277" rx="1.9051488268136176" ry="1.40352858382855" fill="#5c1206" opacity="0.21" filter="url(#b1x)"/>
<ellipse cx="57.7509824045451" cy="388.93941027587493" rx="3.283453840635474" ry="1.5923527425952895" fill="#5c1206" opacity="0.22" filter="url(#b1x)"/>
<ellipse cx="178.24901759545492" cy="388.93941027587493" rx="3.283453840635474" ry="1.5923527425952895" fill="#5c1206" opacity="0.22" filter="url(#b1x)"/>
<ellipse cx="72.38015718544605" cy="361.71184095305364" rx="3.1119767986927878" ry="2.2970654386308063" fill="#5c1206" opacity="0.15" filter="url(#b1x)"/>
<ellipse cx="163.61984281455395" cy="361.71184095305364" rx="3.1119767986927878" ry="2.2970654386308063" fill="#5c1206" opacity="0.15" filter="url(#b1x)"/>
<ellipse cx="59.303595996904775" cy="372.6807022910943" rx="2.1329736889882764" ry="1.3634115916599576" fill="#5c1206" opacity="0.2" filter="url(#b1x)"/>
<ellipse cx="176.6964040030952" cy="372.6807022910943" rx="2.1329736889882764" ry="1.3634115916599576" fill="#5c1206" opacity="0.2" filter="url(#b1x)"/>
<ellipse cx="82.71551046225837" cy="399.3886414307618" rx="2.9224355230352135" ry="2.3400001822146175" fill="#5c1206" opacity="0.33" filter="url(#b1x)"/>
<ellipse cx="153.28448953774165" cy="399.3886414307618" rx="2.9224355230352135" ry="2.3400001822146175" fill="#5c1206" opacity="0.33" filter="url(#b1x)"/>
</g>
<rect x="223.5" y="23" width="145.3" height="164.3" fill="#010507"/>
<g clip-path="url(#cc)">
<rect x="240" y="40" width="112" height="130" rx="40" ry="44" fill="none" stroke="#073445" stroke-width="5" opacity="0.16" filter="url(#b3)"/>
<ellipse cx="296" cy="105" rx="21" ry="23" fill="none" stroke="#073d52" stroke-width="3" opacity="0.3" filter="url(#b2)"/>
<ellipse cx="296" cy="105" rx="12" ry="12.8" fill="none" stroke="#074560" stroke-width="2.6" opacity="0.5" filter="url(#b1x)"/>
<ellipse cx="296" cy="105" rx="7" ry="7.6" fill="url(#gc)"/>
</g>
<rect x="223.5" y="246.2" width="145.5" height="163.6" fill="#060100"/>
<g clip-path="url(#cd)">
<ellipse cx="296" cy="327.3" rx="55" ry="62" fill="none" stroke="#4a0e05" stroke-width="7" stroke-dasharray="14 12" opacity="0.2" filter="url(#b3)"/>
<ellipse cx="296" cy="327.3" rx="30" ry="33" fill="none" stroke="#4a0e05" stroke-width="6" stroke-dasharray="12 12" opacity="0.22" filter="url(#b3)"/>
<ellipse cx="296" cy="327.3" rx="16" ry="17" fill="none" stroke="#4a0e05" stroke-width="3" opacity="0.15" filter="url(#b2)"/>
<ellipse cx="296" cy="327.2" rx="9.2" ry="10.3" fill="url(#gd)"/>
</g>
<rect x="403.5" y="24.6" width="137.39999999999998" height="163.3" fill="#fff" stroke="none"/>
<rect x="403.5" y="24.6" width="137.39999999999998" height="163.3" fill="none" stroke="#2a2a2a" stroke-width="1.6"/>
<path d="M403.50,181.30C403.80,180.85 404.65,179.28 405.30,178.60C405.95,177.92 406.75,177.20 407.40,177.20C408.05,177.20 408.63,177.97 409.20,178.60C409.77,179.23 410.02,180.18 410.80,181.00C411.58,181.82 413.00,183.23 413.90,183.50C414.80,183.77 415.47,182.85 416.20,182.60C416.93,182.35 417.63,182.00 418.30,182.00C418.97,182.00 419.60,182.32 420.20,182.60C420.80,182.88 420.88,183.07 421.90,183.70C422.92,184.33 425.20,186.07 426.30,186.40C427.40,186.73 427.78,185.88 428.50,185.70C429.22,185.52 429.77,185.15 430.60,185.30C431.43,185.45 432.40,186.10 433.50,186.60C434.60,187.10 436.03,188.27 437.20,188.30C438.37,188.33 439.53,187.37 440.50,186.80C441.47,186.23 441.85,185.65 443.00,184.90C444.15,184.15 446.23,182.37 447.40,182.30C448.57,182.23 449.02,183.68 450.00,184.50C450.98,185.32 452.37,187.62 453.30,187.20C454.23,186.78 454.95,183.73 455.60,182.00C456.25,180.27 456.67,178.00 457.20,176.80C457.73,175.60 458.27,174.77 458.80,174.80C459.33,174.83 459.87,175.87 460.40,177.00C460.93,178.13 461.47,180.52 462.00,181.60C462.53,182.68 463.05,185.38 463.60,183.50C464.15,181.62 464.95,173.68 465.30,170.35C465.65,167.02 465.57,166.00 465.70,163.53C465.83,161.07 465.97,158.39 466.10,155.55C466.23,152.71 466.37,149.67 466.50,146.49C466.63,143.31 466.77,139.93 466.90,136.46C467.03,132.98 467.17,129.34 467.30,125.63C467.43,121.92 467.57,118.07 467.70,114.20C467.83,110.33 467.97,106.36 468.10,102.42C468.23,98.48 468.37,94.47 468.50,90.54C468.63,86.62 468.77,82.68 468.90,78.86C469.03,75.05 469.17,71.27 469.30,67.66C469.43,64.06 469.57,60.54 469.70,57.24C469.83,53.95 469.97,50.78 470.10,47.88C470.23,44.97 470.37,42.25 470.50,39.82C470.63,37.40 470.77,35.19 470.90,33.31C471.03,31.43 471.17,29.81 471.30,28.52C471.43,27.23 471.57,26.24 471.70,25.59C471.83,24.93 471.97,24.60 472.10,24.60C472.23,24.60 472.37,24.93 472.50,25.59C472.63,26.24 472.77,27.23 472.90,28.52C473.03,29.81 473.17,31.43 473.30,33.31C473.43,35.19 473.57,37.40 473.70,39.82C473.83,42.25 473.97,44.97 474.10,47.88C474.23,50.78 474.37,53.95 474.50,57.24C474.63,60.54 474.77,64.06 474.90,67.66C475.03,71.27 475.17,75.05 475.30,78.86C475.43,82.68 475.57,86.62 475.70,90.54C475.83,94.47 475.97,98.48 476.10,102.42C476.23,106.36 476.37,110.33 476.50,114.20C476.63,118.07 476.77,121.92 476.90,125.63C477.03,129.34 477.17,132.98 477.30,136.46C477.43,139.93 477.57,143.31 477.70,146.49C477.83,149.67 477.97,152.71 478.10,155.55C478.23,158.39 478.37,161.07 478.50,163.53C478.63,166.00 478.55,167.02 478.90,170.35C479.25,173.68 480.05,181.62 480.60,183.50C481.15,185.38 481.67,182.68 482.20,181.60C482.73,180.52 483.27,178.13 483.80,177.00C484.33,175.87 484.87,174.83 485.40,174.80C485.93,174.77 486.47,175.60 487.00,176.80C487.53,178.00 487.95,180.27 488.60,182.00C489.25,183.73 489.97,186.78 490.90,187.20C491.83,187.62 493.22,185.32 494.20,184.50C495.18,183.68 495.63,182.23 496.80,182.30C497.97,182.37 500.05,184.15 501.20,184.90C502.35,185.65 502.73,186.23 503.70,186.80C504.67,187.37 505.83,188.33 507.00,188.30C508.17,188.27 509.60,187.10 510.70,186.60C511.80,186.10 512.77,185.45 513.60,185.30C514.43,185.15 514.98,185.52 515.70,185.70C516.42,185.88 516.80,186.73 517.90,186.40C519.00,186.07 521.28,184.33 522.30,183.70C523.32,183.07 523.40,182.88 524.00,182.60C524.60,182.32 525.23,182.00 525.90,182.00C526.57,182.00 527.27,182.35 528.00,182.60C528.73,182.85 529.40,183.77 530.30,183.50C531.20,183.23 532.62,181.82 533.40,181.00C534.18,180.18 534.43,179.23 535.00,178.60C535.57,177.97 536.15,177.20 536.80,177.20C537.45,177.20 538.25,177.92 538.90,178.60C539.55,179.28 540.40,180.85 540.70,181.30" fill="none" stroke="#1fb6ec" stroke-width="1.8" stroke-linejoin="round" stroke-linecap="round"/>
<path d="M471.9,187.9 v-2.6" stroke="#2a2a2a" stroke-width="1.2"/>
<path d="M490.3,37.1 H510.4" stroke="#3bb4d9" stroke-width="1"/>
<text x="503.8" y="52.2" class="m" style="font-size:4.6px;fill:#7a7a7a">The</text>
<rect x="406.1" y="249.2" width="134.79999999999995" height="159.8" fill="#fff" stroke="none"/>
<rect x="406.1" y="249.2" width="134.79999999999995" height="159.8" fill="none" stroke="#2a2a2a" stroke-width="1.6"/>
<path d="M406.10,409.00C406.67,408.88 408.38,408.80 409.50,408.30C410.62,407.80 411.70,406.62 412.80,406.00C413.90,405.38 415.07,404.60 416.10,404.60C417.13,404.60 418.03,405.42 419.00,406.00C419.97,406.58 420.90,407.62 421.90,408.10C422.90,408.58 423.90,408.75 425.00,408.90C426.10,409.05 427.33,409.43 428.50,409.00C429.67,408.57 430.80,407.15 432.00,406.30C433.20,405.45 434.50,404.02 435.70,403.90C436.90,403.78 437.98,405.00 439.20,405.60C440.42,406.20 441.70,407.02 443.00,407.50C444.30,407.98 445.78,408.27 447.00,408.50C448.22,408.73 448.78,408.80 450.30,408.90C451.82,409.00 454.62,409.20 456.10,409.10C457.58,409.00 458.32,409.08 459.20,408.30C460.08,407.52 460.97,405.28 461.40,404.44C461.83,403.59 461.67,403.68 461.80,403.24C461.93,402.79 462.07,402.32 462.20,401.78C462.33,401.25 462.47,400.67 462.60,400.03C462.73,399.39 462.87,398.70 463.00,397.94C463.13,397.18 463.27,396.36 463.40,395.47C463.53,394.58 463.67,393.62 463.80,392.58C463.93,391.54 464.07,390.43 464.20,389.23C464.33,388.03 464.47,386.76 464.60,385.39C464.73,384.02 464.87,382.56 465.00,381.01C465.13,379.47 465.27,377.83 465.40,376.09C465.53,374.36 465.67,372.53 465.80,370.61C465.93,368.69 466.07,366.67 466.20,364.57C466.33,362.46 466.47,360.26 466.60,357.98C466.73,355.70 466.87,353.32 467.00,350.88C467.13,348.43 467.27,345.90 467.40,343.30C467.53,340.71 467.67,338.04 467.80,335.33C467.93,332.62 468.07,329.84 468.20,327.04C468.33,324.24 468.47,321.38 468.60,318.53C468.73,315.68 468.87,312.79 469.00,309.92C469.13,307.06 469.27,304.18 469.40,301.35C469.53,298.53 469.67,295.70 469.80,292.96C469.93,290.22 470.07,287.51 470.20,284.90C470.33,282.29 470.47,279.74 470.60,277.32C470.73,274.90 470.87,272.57 471.00,270.38C471.13,268.20 471.27,266.13 471.40,264.23C471.53,262.33 471.67,260.56 471.80,258.99C471.93,257.41 472.07,256.00 472.20,254.78C472.33,253.57 472.47,252.53 472.60,251.71C472.73,250.88 472.87,250.25 473.00,249.83C473.13,249.41 473.27,249.20 473.40,249.20C473.53,249.20 473.67,249.41 473.80,249.83C473.93,250.25 474.07,250.88 474.20,251.71C474.33,252.53 474.47,253.57 474.60,254.78C474.73,256.00 474.87,257.41 475.00,258.99C475.13,260.56 475.27,262.33 475.40,264.23C475.53,266.13 475.67,268.20 475.80,270.38C475.93,272.57 476.07,274.90 476.20,277.32C476.33,279.74 476.47,282.29 476.60,284.90C476.73,287.51 476.87,290.22 477.00,292.96C477.13,295.70 477.27,298.53 477.40,301.35C477.53,304.18 477.67,307.06 477.80,309.92C477.93,312.79 478.07,315.68 478.20,318.53C478.33,321.38 478.47,324.24 478.60,327.04C478.73,329.84 478.87,332.62 479.00,335.33C479.13,338.04 479.27,340.71 479.40,343.30C479.53,345.90 479.67,348.43 479.80,350.88C479.93,353.32 480.07,355.70 480.20,357.98C480.33,360.26 480.47,362.46 480.60,364.57C480.73,366.67 480.87,368.69 481.00,370.61C481.13,372.53 481.27,374.36 481.40,376.09C481.53,377.83 481.67,379.47 481.80,381.01C481.93,382.56 482.07,384.02 482.20,385.39C482.33,386.76 482.47,388.03 482.60,389.23C482.73,390.43 482.87,391.54 483.00,392.58C483.13,393.62 483.27,394.58 483.40,395.47C483.53,396.36 483.67,397.18 483.80,397.94C483.93,398.70 484.07,399.39 484.20,400.03C484.33,400.67 484.47,401.25 484.60,401.78C484.73,402.32 484.87,402.79 485.00,403.24C485.13,403.68 485.10,403.61 485.40,404.44C485.70,405.26 485.95,407.44 486.80,408.20C487.65,408.96 488.97,408.90 490.50,409.00C492.03,409.10 494.33,409.00 496.00,408.80C497.67,408.60 499.12,408.15 500.50,407.80C501.88,407.45 503.05,407.20 504.30,406.70C505.55,406.20 506.83,405.30 508.00,404.80C509.17,404.30 510.22,403.62 511.30,403.70C512.38,403.78 513.25,404.42 514.50,405.30C515.75,406.18 517.38,408.55 518.80,409.00C520.22,409.45 521.72,408.50 523.00,408.00C524.28,407.50 525.22,406.58 526.50,406.00C527.78,405.42 529.42,404.43 530.70,404.50C531.98,404.57 533.03,405.65 534.20,406.40C535.37,407.15 536.58,408.65 537.70,409.00C538.82,409.35 540.37,408.58 540.90,408.50" fill="none" stroke="#f0260c" stroke-width="1.8" stroke-linejoin="round" stroke-linecap="round"/>
<path d="M473.4,409.0 v-2.6" stroke="#2a2a2a" stroke-width="1.2"/>
<text x="118.5" y="20.1" class="m">488nm</text>
<text x="299.7" y="18.2" class="m L">488nm</text>
<text x="476" y="18.2" class="m L">488nm</text>
<text x="118.3" y="243.6" class="m">632.8nm</text>
<text x="303" y="240.7" class="m L">632.8nm</text>
<text x="475.2" y="238.9" class="m L">632.8nm</text>
<text x="8.5" y="28.7">(a)</text>
<text x="47.8" y="28.7" class="e">40</text>
<text x="47.8" y="74.3" class="e">30</text>
<text x="47.8" y="119.9" class="e">20</text>
<text x="47.8" y="165.5" class="e">10</text>
<text x="49.5" y="200.3" class="m">−5</text>
<text x="116.5" y="200.3" class="m">0</text>
<text x="183.3" y="200.3" class="m">5</text>
<text x="116.9" y="211.9" class="m L">x(um)</text>
<text class="m Z" transform="translate(30,105.4) rotate(-90)">z(um)</text>
<text x="8" y="251.6">(b)</text>
<text x="47.6" y="252.0" class="e">40</text>
<text x="47.6" y="297.6" class="e">30</text>
<text x="47.6" y="343.2" class="e">20</text>
<text x="47.6" y="388.8" class="e">10</text>
<text x="50" y="424" class="m">−5</text>
<text x="116.5" y="424" class="m">0</text>
<text x="183.3" y="424" class="m">5</text>
<text x="123.3" y="437.5" class="m L">x(um)</text>
<text class="m Z" transform="translate(30,328.9) rotate(-90)">z(um)</text>
<text x="198.3" y="25">(c)</text>
<text x="216.7" y="29" class="m">5</text>
<text x="217" y="110.3" class="m">0</text>
<text x="217.3" y="190" class="e">−5</text>
<text x="226.5" y="201.6" class="m">−5</text>
<text x="296.5" y="201.8" class="m">0</text>
<text x="370" y="201.8" class="m">5</text>
<text x="296.3" y="214.9" class="m L">x(um)</text>
<text class="m L" transform="translate(211,104) rotate(-90)">y(um)</text>
<text x="194.3" y="249.6">(d)</text>
<text x="216.9" y="251.5" class="m">5</text>
<text x="216.4" y="333.8" class="m">0</text>
<text x="218.4" y="410.6" class="e">−5</text>
<text x="222" y="424.6" class="m">−5</text>
<text x="295.5" y="424.4" class="m">0</text>
<text x="370" y="424.4" class="m">5</text>
<text x="295.5" y="440.4" class="m L">x(um)</text>
<text class="m L" transform="translate(207,317.4) rotate(-90)">y(um)</text>
<text x="377.6" y="28.4">(e)</text>
<text x="399.4" y="28.4" class="m">1</text>
<text x="396.6" y="192.6" class="m">0</text>
<text x="402.7" y="205.3" class="m">−5</text>
<text x="473.4" y="207" class="m">0</text>
<text x="539" y="204.6" class="m">5</text>
<text x="475.5" y="218.6" class="m L">x(um)</text>
<text class="m L" transform="translate(394,103.9) rotate(-90)">Intensity</text>
<text x="375.6" y="255.3">(f)</text>
<text x="399.4" y="255.3" class="m">1</text>
<text x="399.3" y="412.7" class="m">0</text>
<text x="403" y="425.3" class="m">−5</text>
<text x="469.5" y="427" class="m">0</text>
<text x="535.5" y="425.3" class="m">5</text>
<text x="469.5" y="438.2" class="m L">x(um)</text>
<text class="m L" transform="translate(394,328.4) rotate(-90)">Intensity</text>
</svg>
</body></html>
